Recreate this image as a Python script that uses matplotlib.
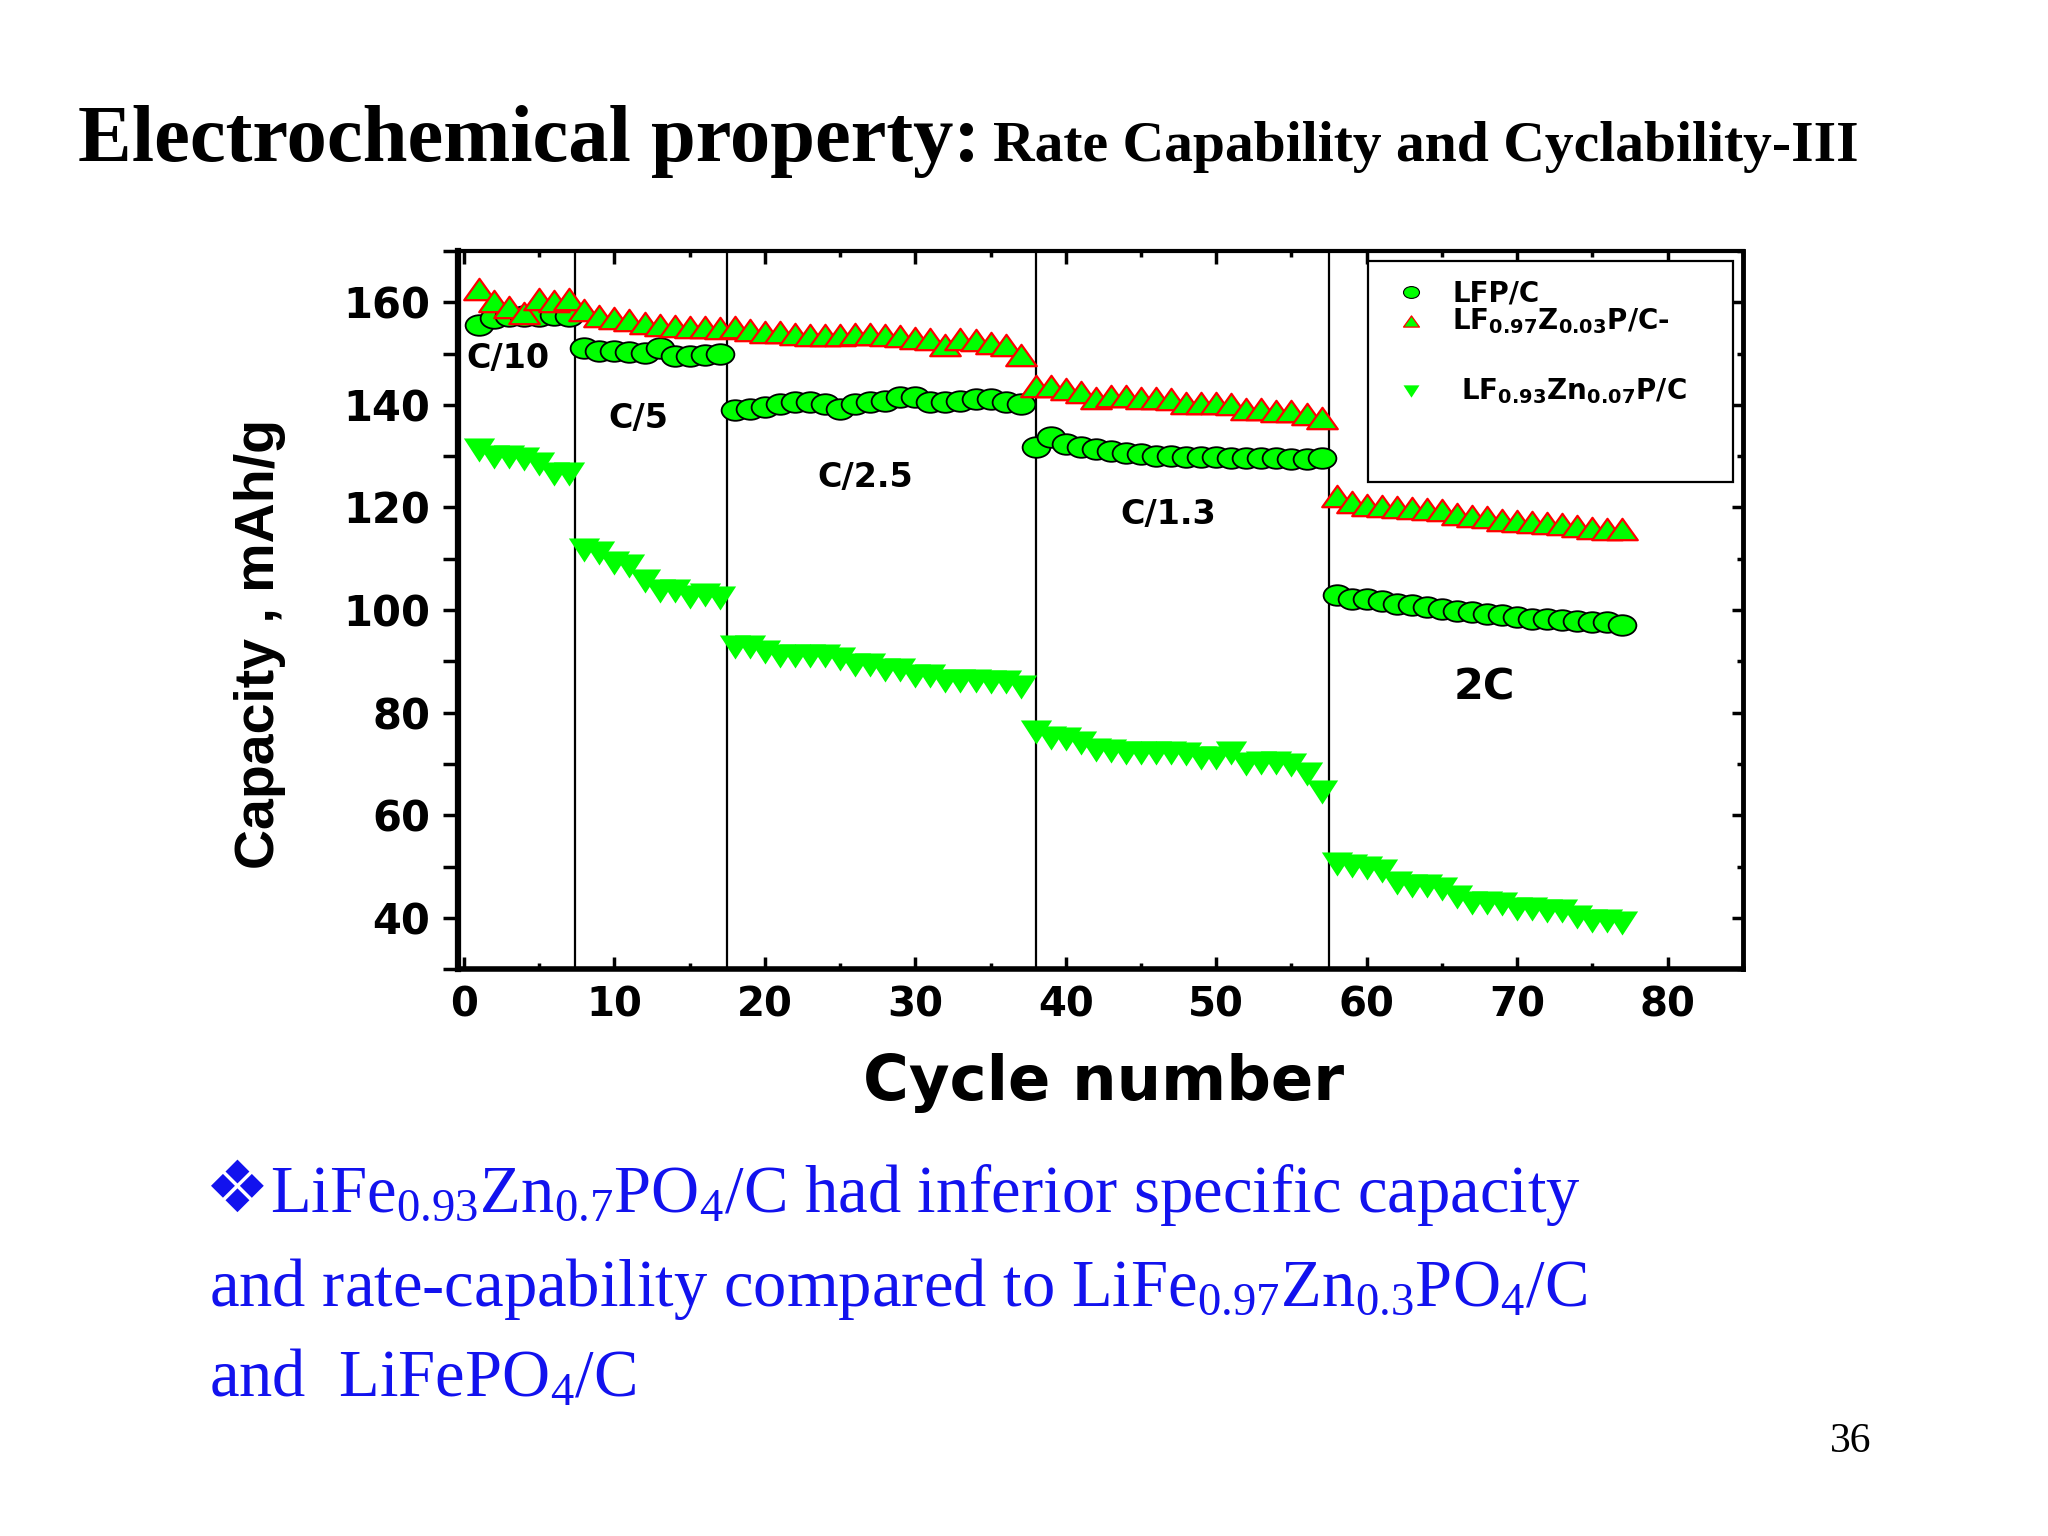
import matplotlib
matplotlib.use('Agg')
import matplotlib.pyplot as plt
from matplotlib.path import Path
from matplotlib.transforms import Affine2D
from matplotlib.patches import Rectangle
from matplotlib.ticker import MultipleLocator

plt.rcParams['mathtext.default'] = 'regular'

# ---------------- data ----------------
cycles = list(range(1, 78))

lfp_c = [155.5, 157.0, 157.3, 157.3, 157.3, 157.5, 157.4,
         151.0, 150.5, 150.5, 150.3, 150.2, 151.0, 149.6, 149.5, 149.8, 150.0,
         139.1, 139.2, 139.5, 140.2, 140.5, 140.5, 140.2, 139.2, 140.2, 140.5,
         140.8, 141.5, 141.5, 140.5, 140.5, 140.8, 141.2, 141.2, 140.5, 140.2,
         131.7, 133.7, 132.4, 131.7, 131.4, 131.0, 130.7, 130.4, 130.1, 130.0,
         129.8, 129.8, 129.8, 129.7, 129.7, 129.7, 129.7, 129.5, 129.5, 129.7,
         102.9, 102.2, 102.2, 101.75, 101.2, 100.9, 100.7, 100.3, 99.9, 99.6,
         99.2, 99.0, 98.6, 98.3, 98.3, 98.0, 97.9, 97.7, 97.7, 97.0]

lfz003 = [162.5, 160.3, 159.0, 158.0, 160.6, 160.3, 160.6,
          158.4, 157.3, 156.9, 156.6, 155.9, 155.6, 155.3, 155.2, 155.1, 155.0,
          155.2, 154.6, 154.3, 154.3, 153.9, 153.6, 153.6, 153.7, 153.9, 153.9,
          153.7, 153.5, 153.1, 152.8, 151.6, 152.8, 152.6, 152.1, 151.6, 149.8,
          143.7, 143.7, 143.1, 142.5, 141.4, 141.7, 141.7, 141.4, 141.4, 141.1,
          140.4, 140.4, 140.4, 140.1, 139.2, 139.2, 138.8, 138.8, 138.2, 137.5,
          122.25, 121.1, 120.5, 120.3, 120.1, 119.85, 119.65, 119.45, 118.8, 118.4,
          118.05, 117.5, 117.4, 117.1, 116.9, 116.75, 116.4, 116.1, 115.8, 115.8]

lfz007 = [131.2, 129.9, 129.9, 129.4, 128.5, 126.6, 126.6,
          111.8, 111.2, 109.2, 108.6, 105.7, 103.7, 103.7, 102.6, 102.9, 102.3,
          92.8, 92.8, 91.8, 91.1, 91.1, 91.1, 91.1, 90.4, 89.3, 89.3,
          88.3, 88.3, 87.2, 87.2, 86.2, 86.2, 86.2, 85.9, 85.9, 85.1,
          76.2, 75.1, 74.9, 74.0, 72.8, 72.5, 72.2, 72.05, 72.05, 72.05,
          71.9, 71.2, 71.2, 72.2, 70.0, 70.2, 70.1, 69.9, 68.0, 64.5,
          50.5, 50.1, 49.8, 49.2, 46.8, 46.3, 46.3, 45.6, 44.0, 43.0,
          43.0, 42.7, 41.7, 41.7, 41.4, 41.4, 40.1, 39.4, 39.4, 39.1]

rate_labels = ['C/10', 'C/5', 'C/2.5', 'C/1.3', '2C']
rate_label_x = [0.15, 9.6, 23.5, 43.6, 65.8]
rate_label_y = [147.1, 135.4, 124.0, 116.7, 82.5]
rate_boundaries = [7.4, 17.5, 38.0, 57.5]

x_ticks = [0, 10, 20, 30, 40, 50, 60, 70, 80]
y_ticks = [40, 60, 80, 100, 120, 140, 160]

legend_labels = ['LFP/C',
                 r'LF$_{0.97}$Z$_{0.03}$P/C-',
                 r'LF$_{0.93}$Zn$_{0.07}$P/C']

GREEN = '#00FF00'
RED = '#FF0000'
BLUE = '#1212EE'

# ---------------- markers ----------------
ellipse = Path.unit_circle().transformed(Affine2D().scale(1.35, 1.0))
tri_up = Path([(-1, -0.7), (1, -0.7), (0, 0.7), (-1, -0.7)],
              [Path.MOVETO, Path.LINETO, Path.LINETO, Path.CLOSEPOLY])
tri_down = Path([(-1, 0.77), (1, 0.77), (0, -0.77), (-1, 0.77)],
                [Path.MOVETO, Path.LINETO, Path.LINETO, Path.CLOSEPOLY])

fig = plt.figure(figsize=(20.48, 15.36), dpi=100)
fig.patch.set_facecolor('white')

ax = fig.add_axes([0.2236, 0.369, 0.6274, 0.4676])
ax.set_xlim(-0.4, 85)
ax.set_ylim(30, 170)

for b in rate_boundaries:
    ax.axvline(b, color='black', lw=1.6, zorder=2)

ax.plot(cycles, lfp_c, linestyle='none', marker=ellipse, ms=20,
        mfc=GREEN, mec='black', mew=1.3, zorder=3)
ax.plot(cycles, lfz003, linestyle='none', marker=tri_up, ms=22,
        mfc=GREEN, mec=RED, mew=1.6, zorder=4)
ax.plot(cycles, lfz007, linestyle='none', marker=tri_down, ms=22.5,
        mfc=GREEN, mec='none', mew=0, zorder=5)

for lab, lx, ly in zip(rate_labels, rate_label_x, rate_label_y):
    ax.text(lx, ly, lab, fontsize=31 if lab == '2C' else 24,
            fontweight='bold', family='DejaVu Sans',
            ha='left', va='baseline', zorder=6)

# ticks
ax.set_xticks(x_ticks, labels=[str(t) for t in x_ticks],
              fontsize=29, fontweight='bold', family='DejaVu Sans')
ax.xaxis.set_minor_locator(MultipleLocator(5))
ax.set_yticks(y_ticks, labels=[str(t) for t in y_ticks],
              fontsize=30, fontweight='bold', family='DejaVu Sans')
ax.yaxis.set_minor_locator(MultipleLocator(10))

ax.tick_params(axis='x', which='major', direction='in', length=9, width=2.5,
               top=True, bottom=True, pad=12)
ax.tick_params(axis='x', which='minor', direction='in', length=4, width=2.5,
               top=True, bottom=True)
ax.tick_params(axis='y', which='both', direction='out', length=11, width=2.5,
               left=True, right=False, pad=9)

for side, lw in [('left', 4.5), ('bottom', 4.0), ('top', 3.0), ('right', 3.5)]:
    ax.spines[side].set_linewidth(lw)

ax2 = ax.twinx()
ax2.set_ylim(30, 170)
ax2.set_yticks(y_ticks)
ax2.yaxis.set_minor_locator(MultipleLocator(10))
ax2.tick_params(axis='y', which='major', direction='in', length=8, width=2.5,
                labelright=False)
ax2.tick_params(axis='y', which='minor', direction='in', length=4, width=2.5)
for side in ['left', 'bottom', 'top', 'right']:
    ax2.spines[side].set_visible(False)

# legend (manual)
ax.add_patch(Rectangle((0.708, 0.678), 0.284, 0.308, transform=ax.transAxes,
                       fill=True, facecolor='white', edgecolor='black',
                       lw=1.6, zorder=7))
leg_markers = [dict(marker=ellipse, mfc=GREEN, mec='black', mew=0.8),
               dict(marker=tri_up, mfc=GREEN, mec=RED, mew=0.9),
               dict(marker=tri_down, mfc=GREEN, mec='none', mew=0)]
leg_marker_y = [0.943, 0.903, 0.805]
leg_text_x = [0.774, 0.774, 0.781]
leg_text_y = [0.930, 0.891, 0.794]
for lab, st, my, tx, ty in zip(legend_labels, leg_markers, leg_marker_y,
                               leg_text_x, leg_text_y):
    ax.plot([0.742], [my], linestyle='none', ms=11.5, transform=ax.transAxes,
            clip_on=False, zorder=8, **st)
    ax.text(tx, ty, lab, transform=ax.transAxes, fontsize=20,
            fontweight='bold', family='DejaVu Sans', ha='left',
            va='baseline', zorder=8)

# axis labels
fig.text(0.539, 0.284, 'Cycle number', ha='center', va='baseline',
         fontsize=45, fontweight='bold', family='DejaVu Sans')
fig.text(0.127, 0.581, 'Capacity , mAh/g', rotation=90, ha='center',
         va='center', fontsize=40, fontweight='bold',
         family='Liberation Sans')

# slide title
fig.text(0.038, 0.8954, 'Electrochemical property:', ha='left',
         va='baseline', fontsize=58, fontweight='bold',
         family='Liberation Serif')
fig.text(0.485, 0.8954, 'Rate Capability and Cyclability-III', ha='left',
         va='baseline', fontsize=41.5, fontweight='bold',
         family='Liberation Serif')

# bullet text
fig.text(0.100, 0.211, '\u2756', ha='left', va='baseline', fontsize=52,
         color=BLUE, family='DejaVu Sans')
fig.text(0.132, 0.211,
         r'LiFe$_{0.93}$Zn$_{0.7}$PO$_4$/C had inferior specific capacity',
         ha='left', va='baseline', fontsize=48, color=BLUE,
         family='Liberation Serif')
fig.text(0.102, 0.150,
         r'and rate-capability compared to LiFe$_{0.97}$Zn$_{0.3}$PO$_4$/C',
         ha='left', va='baseline', fontsize=48, color=BLUE,
         family='Liberation Serif')
fig.text(0.102, 0.0905, r'and  LiFePO$_4$/C', ha='left', va='baseline',
         fontsize=48, color=BLUE, family='Liberation Serif')

fig.text(0.914, 0.0547, '36', ha='right', va='baseline', fontsize=30,
         family='Liberation Serif')

fig.savefig('out.png', dpi=100, facecolor='white')
